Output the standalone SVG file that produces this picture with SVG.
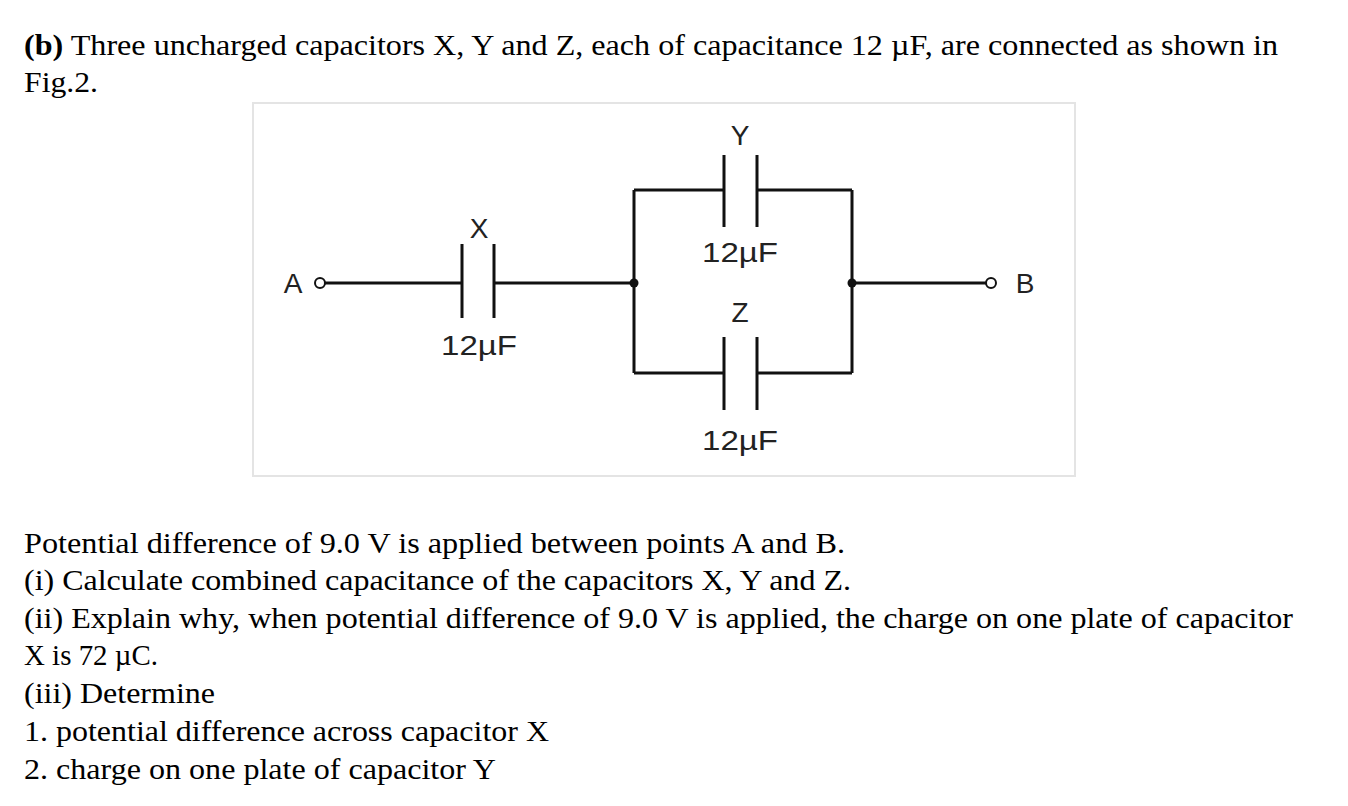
<svg xmlns="http://www.w3.org/2000/svg" width="1348" height="806" viewBox="0 0 1348 806">
<style>
.t{font-family:"Liberation Serif",serif;font-size:30px;fill:#000}
.l{font-family:"Liberation Sans",Arial,sans-serif;font-size:28px;fill:#222}
.w{stroke:#111;stroke-width:3;fill:none}
</style>
<rect width="1348" height="806" fill="#fff"/>
<g id="question">
<text class="t" x="24" y="55" textLength="1254" lengthAdjust="spacingAndGlyphs"><tspan font-weight="bold">(b)</tspan> Three uncharged capacitors X, Y and Z, each of capacitance 12 µF, are connected as shown in</text>
<text class="t" x="24" y="92" textLength="74" lengthAdjust="spacingAndGlyphs">Fig.2.</text>
<text class="t" x="24" y="553" textLength="821" lengthAdjust="spacingAndGlyphs">Potential difference of 9.0 V is applied between points A and B.</text>
<text class="t" x="24" y="590" textLength="827" lengthAdjust="spacingAndGlyphs">(i) Calculate combined capacitance of the capacitors X, Y and Z.</text>
<text class="t" x="24" y="628" textLength="1269" lengthAdjust="spacingAndGlyphs">(ii) Explain why, when potential difference of 9.0 V is applied, the charge on one plate of capacitor</text>
<text class="t" x="24" y="665" textLength="134" lengthAdjust="spacingAndGlyphs">X is 72 µC.</text>
<text class="t" x="24" y="703" textLength="191" lengthAdjust="spacingAndGlyphs">(iii) Determine</text>
<text class="t" x="24" y="741" textLength="525" lengthAdjust="spacingAndGlyphs">1. potential difference across capacitor X</text>
<text class="t" x="24" y="779" textLength="472" lengthAdjust="spacingAndGlyphs">2. charge on one plate of capacitor Y</text>
</g>
<rect id="frame" x="253" y="103" width="822" height="373" fill="#fff" stroke="#e4e4e4" stroke-width="2"/>
<g id="connectors">
<path class="w" d="M325 283H462M494 283H634M634 190V373M634 190H724M757 190H852M634 373H724M757 373H852M852 190V373M852 283H986"/>
</g>
<g id="A"><circle cx="320" cy="283" r="5" fill="#fff" stroke="#111" stroke-width="2"/><text class="l" x="293" y="293" text-anchor="middle">A</text></g>
<g id="B"><circle cx="991" cy="283" r="5" fill="#fff" stroke="#111" stroke-width="2"/><text class="l" x="1025" y="293" text-anchor="middle">B</text></g>
<g id="j1"><circle cx="634" cy="283" r="4.5" fill="#111"/></g>
<g id="j2"><circle cx="852" cy="283" r="4.5" fill="#111"/></g>
<g id="X"><path class="w" d="M462 244V318M494 244V318"/><text class="l" x="479" y="238" text-anchor="middle">X</text><text class="l" x="479" y="355" text-anchor="middle" textLength="76" lengthAdjust="spacingAndGlyphs">12µF</text></g>
<g id="Y"><path class="w" d="M724 155V227M757 155V227"/><text class="l" x="740" y="145" text-anchor="middle">Y</text><text class="l" x="740" y="262" text-anchor="middle" textLength="76" lengthAdjust="spacingAndGlyphs">12µF</text></g>
<g id="Z"><path class="w" d="M724 337V410M757 337V410"/><text class="l" x="740" y="322" text-anchor="middle">Z</text><text class="l" x="740" y="450" text-anchor="middle" textLength="76" lengthAdjust="spacingAndGlyphs">12µF</text></g>
</svg>
